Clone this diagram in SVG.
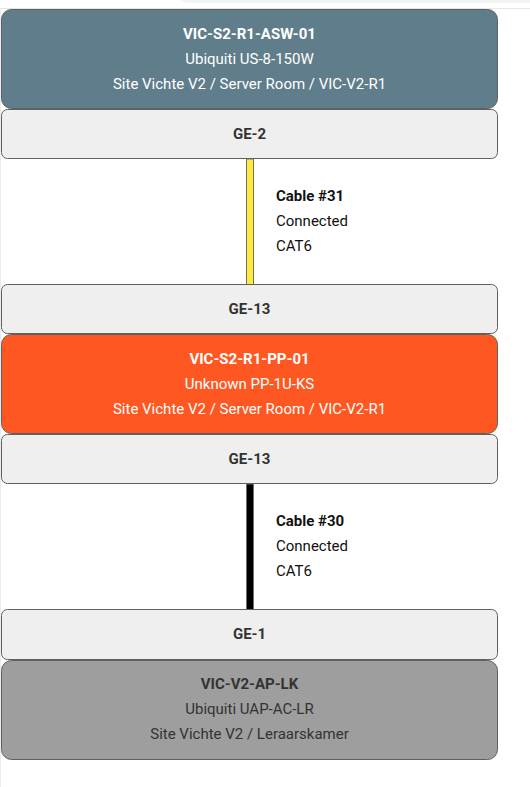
<svg xmlns="http://www.w3.org/2000/svg" width="530" height="787" viewBox="0 0 530 787">
<style>
text{font-family:Roboto,"Liberation Sans",sans-serif;font-size:15px;text-anchor:middle}
.dev{stroke:#606060;stroke-width:1}
.port{fill:#efefef;stroke:#606060;stroke-width:1}
.b{font-weight:bold}
.w{fill:#ffffff}
.d{fill:#333333}
.pl{font-weight:bold;fill:#333333}
.cl{text-anchor:start;fill:#111111}
</style>
<rect x="0" y="0" width="530" height="787" fill="#ffffff"/>
<path d="M180 0 L530 0 L530 3 L195 3 Q182 3 180 0 Z" fill="#f2f3f5"/>
<line x1="0" y1="8.5" x2="530" y2="8.5" stroke="#e6e6e6" stroke-width="1"/>
<line x1="0.5" y1="8" x2="0.5" y2="787" stroke="#ececec" stroke-width="1"/>
<g id="connectors">
<g id="cable31">
<rect x="246.5" y="159" width="7" height="126" fill="#ffeb3b" stroke="#707070" stroke-width="1"/>
<text class="cl b" x="276" y="201">Cable #31</text>
<text class="cl" x="276" y="226">Connected</text>
<text class="cl" x="276" y="251">CAT6</text>
</g>
<g id="cable30">
<rect x="246.5" y="484" width="7" height="126" fill="#000000" stroke="#707070" stroke-width="1"/>
<text class="cl b" x="276" y="526">Cable #30</text>
<text class="cl" x="276" y="551">Connected</text>
<text class="cl" x="276" y="576">CAT6</text>
</g>
</g>
<g id="node-asw">
<rect class="dev" x="1.5" y="9.5" width="496" height="99" rx="10" fill="#607d8b"/>
<text class="w b" x="249.5" y="39">VIC-S2-R1-ASW-01</text>
<text class="w" x="249.5" y="64">Ubiquiti US-8-150W</text>
<text class="w" x="249.5" y="89">Site Vichte V2 / Server Room / VIC-V2-R1</text>
</g>
<g id="port-ge2">
<rect class="port" x="1.5" y="109.5" width="496" height="49" rx="6"/>
<text class="pl" x="249.5" y="139">GE-2</text>
</g>
<g id="port-ge13a">
<rect class="port" x="1.5" y="284.5" width="496" height="49" rx="6"/>
<text class="pl" x="249.5" y="314">GE-13</text>
</g>
<g id="node-pp">
<rect class="dev" x="1.5" y="334.5" width="496" height="99" rx="10" fill="#ff5722"/>
<text class="w b" x="249.5" y="364">VIC-S2-R1-PP-01</text>
<text class="w" x="249.5" y="389">Unknown PP-1U-KS</text>
<text class="w" x="249.5" y="414">Site Vichte V2 / Server Room / VIC-V2-R1</text>
</g>
<g id="port-ge13b">
<rect class="port" x="1.5" y="434.5" width="496" height="49" rx="6"/>
<text class="pl" x="249.5" y="464">GE-13</text>
</g>
<g id="port-ge1">
<rect class="port" x="1.5" y="609.5" width="496" height="50" rx="6"/>
<text class="pl" x="249.5" y="639">GE-1</text>
</g>
<g id="node-ap">
<rect class="dev" x="1.5" y="660.5" width="496" height="99" rx="10" fill="#9e9e9e"/>
<text class="d b" x="249.5" y="689">VIC-V2-AP-LK</text>
<text class="d" x="249.5" y="714">Ubiquiti UAP-AC-LR</text>
<text class="d" x="249.5" y="739">Site Vichte V2 / Leraarskamer</text>
</g>
</svg>
